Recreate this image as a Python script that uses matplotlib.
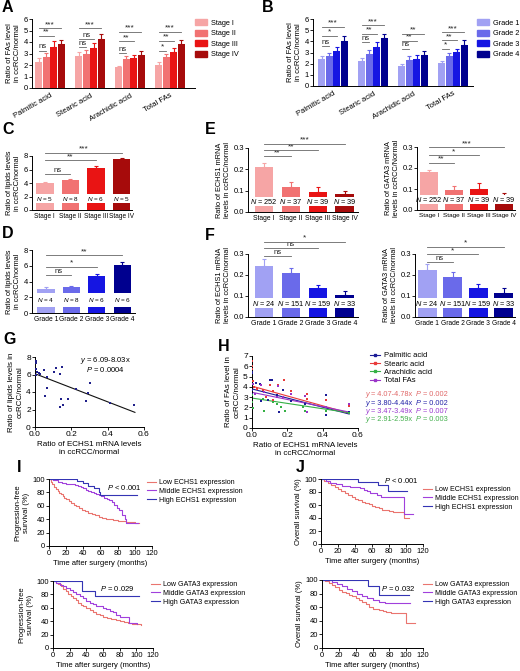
import numpy as np
import matplotlib
matplotlib.use("Agg")
import matplotlib.pyplot as plt
from matplotlib.patches import Patch
from matplotlib.lines import Line2D

plt.rcParams['font.family'] = ['Liberation Sans', 'DejaVu Sans']
plt.rcParams['mathtext.fontset'] = 'custom'
plt.rcParams['mathtext.it'] = 'Liberation Sans:italic'
plt.rcParams['mathtext.rm'] = 'Liberation Sans'
plt.rcParams['font.size'] = 5
plt.rcParams['axes.linewidth'] = 0.7

# ---------------- data ----------------
fa_names = ['Palmitic acid', 'Stearic acid', 'Arachidic acid', 'Total FAs']
stage_names = ['Stage I', 'Stage II', 'Stage III', 'Stage IV']
grade_names = ['Grade 1', 'Grade 2', 'Grade 3', 'Grade 4']

stage_colors = ['#f6a5a5', '#f17272', '#e91414', '#a60b0b']
grade_colors = ['#a1a1f3', '#6a6aea', '#1515e2', '#00008f']

# A: FAs by stage (rows = FA, cols = stage)
fa_stage_mean = [[2.25, 2.7, 3.6, 3.8], [2.8, 2.95, 3.45, 4.3],
                 [1.8, 2.55, 2.6, 2.85], [2.0, 2.7, 3.15, 3.8]]
fa_stage_err = [[0.4, 0.35, 0.45, 0.35], [0.3, 0.35, 0.45, 0.4],
                [0.15, 0.25, 0.25, 0.35], [0.25, 0.25, 0.3, 0.4]]
fa_stage_sig = [[(1, 3.25, 'ns'), (2, 4.55, '**'), (3, 5.2, '***')],
                [(1, 3.55, 'ns'), (2, 4.25, 'ns'), (3, 5.2, '***')],
                [(1, 3.05, 'ns'), (2, 4.05, '**'), (3, 4.9, '***')],
                [(1, 3.25, '*'), (2, 4.1, '**'), (3, 4.9, '***')]]

# B: FAs by grade
fa_grade_mean = [[2.4, 2.65, 3.1, 4.05], [2.25, 2.9, 3.5, 4.3],
                 [1.75, 2.35, 2.45, 2.8], [2.05, 2.7, 3.05, 3.7]]
fa_grade_err = [[0.25, 0.35, 0.35, 0.4], [0.25, 0.35, 0.4, 0.4],
                [0.2, 0.3, 0.35, 0.3], [0.2, 0.25, 0.3, 0.4]]
fa_grade_sig = [[(1, 3.6, 'ns'), (2, 4.5, '*'), (3, 5.3, '***')],
                [(1, 3.95, 'ns'), (2, 4.7, '**'), (3, 5.45, '***')],
                [(1, 3.35, 'ns'), (2, 4.05, '**'), (3, 4.7, '**')],
                [(1, 3.35, '*'), (2, 4.1, '**'), (3, 4.8, '***')]]

# C / D: lipids
lipid_stage_mean = [3.95, 4.4, 6.25, 7.5]
lipid_stage_err = [0.25, 0.15, 0.2, 0.2]
lipid_stage_n = [5, 8, 6, 5]
lipid_stage_sig = [(1, 5.4, 'ns'), (2, 7.4, '**'), (3, 8.5, '***')]

lipid_grade_mean = [3.0, 3.3, 4.7, 6.1]
lipid_grade_err = [0.35, 0.1, 0.25, 0.35]
lipid_grade_n = [4, 8, 6, 6]
lipid_grade_sig = [(1, 4.8, 'ns'), (2, 5.9, '*'), (3, 7.35, '**')]

# E / F: mRNA
echs1_stage_mean = [0.21, 0.116, 0.092, 0.084]
echs1_stage_err = [0.018, 0.026, 0.024, 0.016]
gata3_stage_mean = [0.18, 0.093, 0.1, 0.053]
gata3_stage_err = [0.012, 0.023, 0.027, 0.027]
mrna_stage_n = [252, 37, 39, 39]
echs1_stage_sig = [(1, 0.263, '**'), (2, 0.29, '**'), (3, 0.32, '***')]
gata3_stage_sig = [(1, 0.225, '**'), (2, 0.262, '*'), (3, 0.30, '***')]

echs1_grade_mean = [0.244, 0.208, 0.137, 0.103]
echs1_grade_err = [0.032, 0.024, 0.015, 0.022]
gata3_grade_mean = [0.224, 0.192, 0.14, 0.113]
gata3_grade_err = [0.027, 0.021, 0.016, 0.024]
mrna_grade_n = [24, 151, 159, 33]
echs1_grade_sig = [(1, 0.29, 'ns'), (2, 0.327, 'ns'), (3, 0.359, '*')]
gata3_grade_sig = [(1, 0.263, 'ns'), (2, 0.30, '*'), (3, 0.335, '*')]

# G: lipids vs ECHS1
g_x = [0.003, 0.006, 0.004, 0.01, 0.02, 0.03, 0.005, 0.05, 0.065, 0.068, 0.055,
       0.105, 0.115, 0.14, 0.148, 0.143, 0.152, 0.137, 0.18, 0.225, 0.283,
       0.293, 0.305, 0.415, 0.545]
g_y = [7.5, 7.3, 6.6, 6.3, 6.15, 6.1, 5.95, 6.5, 5.7, 4.5, 3.6,
       6.3, 6.75, 6.1, 6.85, 3.2, 2.5, 2.3, 3.2, 4.4, 3.0,
       3.9, 5.0, 2.7, 2.5]
g_coef = (6.09, -8.03)

# H: FAs vs ECHS1
h_series = ['Palmitic acid', 'Stearic acid', 'Arachidic acid', 'Total FAs']
h_colors = ['#1c1c96', '#e83a3a', '#35b045', '#9a34c8']
h_x = [
    [0.0, 0.0, 0.0, 0.0, 0.02, 0.045, 0.053, 0.09, 0.1, 0.113, 0.14, 0.153,
     0.175, 0.22, 0.3, 0.42, 0.42, 0.55],
    [0.0, 0.0, 0.0, 0.005, 0.01, 0.03, 0.06, 0.077, 0.1, 0.12, 0.12, 0.147,
     0.18, 0.22, 0.31, 0.31, 0.42, 0.55],
    [0.0, 0.0, 0.005, 0.062, 0.066, 0.12, 0.14, 0.166, 0.185, 0.29, 0.3,
     0.42, 0.55],
    [0.005, 0.015, 0.053, 0.07, 0.14, 0.147, 0.175, 0.22, 0.3, 0.31, 0.42, 0.55],
]
h_y = [
    [5.45, 5.3, 3.3, 3.65, 4.4, 4.25, 2.6, 2.7, 4.7, 4.7, 3.2, 1.55,
     3.7, 2.6, 2.35, 1.25, 3.2, 1.55],
    [6.5, 6.0, 5.7, 4.6, 4.0, 3.8, 3.65, 3.0, 4.15, 3.6, 2.7, 4.15,
     4.7, 3.56, 3.3, 2.85, 2.7, 2.1],
    [3.2, 2.5, 1.9, 2.85, 1.7, 2.5, 2.35, 2.05, 1.7, 2.05, 1.7, 1.7, 1.45],
    [4.3, 3.35, 4.15, 3.5, 3.0, 4.05, 3.0, 3.27, 3.1, 1.55, 2.05, 2.3],
]
h_coef = [(3.80, -4.44), (4.07, -4.78), (2.91, -2.59), (3.47, -3.49)]
h_eq = [(' = 4.07-4.78x  ', ' = 0.002', '#e06868'),
        (' = 3.80-4.44x  ', ' = 0.002', '#2222a8'),
        (' = 3.47-3.49x  ', ' = 0.007', '#9a3ad0'),
        (' = 2.91-2.59x  ', ' = 0.003', '#45b04f')]

# I / J: Kaplan-Meier (time in months, survival in %)
km_colors = ['#ea756f', '#a140dc', '#3434b4']
pfs_echs1 = [
    ([0, 2, 4, 6, 8, 10, 12, 14, 16, 18, 20, 23, 26, 29, 32, 35, 38, 42, 46, 50,
      54, 58, 62, 66, 70, 75, 80, 85, 90, 95, 100, 105],
     [100, 96, 92, 88, 85, 82, 79, 77, 75, 72, 70, 67, 64, 61, 59, 56, 54, 52, 50,
      48, 46, 44, 42, 41, 40, 39, 38, 37, 36, 35.5, 35, 35]),
    ([0, 5, 10, 15, 20, 25, 30, 34, 37, 40, 43, 46, 49, 52, 55, 58, 61, 64, 67,
      70, 73, 76, 79, 82, 85, 88, 90, 95, 104],
     [100, 98, 96, 94, 93, 92, 91, 90, 88, 86, 84, 82, 80, 79, 77, 76, 74, 72, 70,
      68, 65, 61, 57, 53, 47, 40, 35, 35, 35]),
    ([0, 33, 40, 46, 52, 58, 60, 103], [100, 97, 94, 90, 86, 81, 76, 76]),
]
pfs_gata3 = [
    ([0, 3, 6, 9, 12, 15, 18, 21, 24, 27, 30, 33, 36, 40, 44, 48, 52, 56, 60, 65,
      70, 75, 80, 85, 90, 95, 100, 105],
     [100, 97, 95, 92, 88, 85, 81, 78, 74, 71, 67, 64, 62, 59, 56, 53, 51, 49, 47,
      45.5, 43, 41.5, 40, 38.5, 37, 36, 35.5, 35]),
    ([0, 4, 8, 12, 16, 20, 24, 28, 32, 36, 40, 44, 48, 52, 56, 60, 64, 68, 72, 76,
      80, 90, 91, 101],
     [100, 97, 94, 92, 90, 87, 83, 80, 78, 74, 70, 67, 65, 63, 62, 60, 58, 55, 53,
      50, 47, 47, 37, 36]),
    ([0, 35, 50, 103], [100, 85, 78, 78]),
]
os_echs1 = [
    ([0, 4, 8, 12, 16, 20, 24, 28, 32, 36, 40, 44, 48, 52, 56, 60, 64, 68, 72, 76,
      80, 85, 90, 98, 103],
     [100, 97, 94, 91, 88, 85, 82, 79, 75, 72, 70, 67, 65, 63, 61, 59, 57, 55, 53,
      52, 51, 50, 49, 40, 40]),
    ([0, 6, 11, 18, 25, 34, 40, 46, 50, 54, 58, 62, 66, 70, 98, 108],
     [100, 97, 94, 92, 90, 88, 87, 86, 83, 81, 79, 78, 75, 73, 46, 46]),
    ([0, 44, 67, 79, 101], [100, 96, 91, 81, 81]),
]
os_gata3 = [
    ([0, 4, 8, 12, 16, 20, 24, 28, 32, 36, 40, 44, 48, 52, 56, 60, 64, 68, 72, 76,
      82, 88, 94, 100, 110],
     [100, 98, 95, 92, 89, 86, 83, 81, 78, 76, 73, 70, 67, 64, 61, 58, 57, 56, 54,
      53, 52, 51, 51, 37, 37]),
    ([0, 12, 18, 24, 30, 36, 42, 48, 54, 60, 68, 75, 105],
     [100, 97, 94, 91, 87, 84, 80, 76, 73, 70, 67, 66, 66]),
    ([0, 55, 68, 103], [100, 91, 78, 78]),
]

# ---------------- figure ----------------
W, H = 520, 671
fig = plt.figure(figsize=(W / 100, H / 100), dpi=100)


def fx(px):
    return px / W


def fy(py):
    return 1 - py / H


def px_axes(x0, y0, x1, y1):
    ax = fig.add_axes([fx(x0), fy(y1), (x1 - x0) / W, (y1 - y0) / H])
    ax.spines['top'].set_visible(False)
    ax.spines['right'].set_visible(False)
    ax.tick_params(direction='out', length=2, width=0.6, pad=1, labelsize=5.5)
    return ax


def letter(x, y, s):
    fig.text(fx(x), fy(y), s, fontsize=11.5, fontweight='bold', va='center', ha='left')


def bars(ax, xs, means, errs, colors, width):
    ax.bar(xs, means, width=width, color=colors, zorder=2)
    for x, m, e, c in zip(xs, means, errs, colors):
        ax.errorbar([x], [m], yerr=[[0], [e]], fmt='none', ecolor=c,
                    elinewidth=0.8, capsize=1.2, capthick=0.8, zorder=2)


def bracket(ax, x0, x1, y, txt, dy):
    ax.plot([x0, x1], [y, y], color='#666666', lw=0.6, clip_on=False, zorder=5)
    ax.text((x0 + x1) / 2, y + dy, txt, ha='center', va='bottom',
            fontsize=5.5 if txt == 'ns' else 6, color='#222222', clip_on=False)


def n_band(ax, xs, ns, lo, hi, width, fs):
    ax.bar(xs, [hi - lo] * len(xs), bottom=lo, width=width, color='white', zorder=3)
    for x, n in zip(xs, ns):
        ax.text(x, (lo + hi) / 2, r'$N$ = %d' % n, ha='center', va='center',
                fontsize=fs, zorder=4)


# ---- A / B grouped bars ----
def grouped(ax, means, errs, sigs, colors, xlim):
    bw, step = 0.18, 0.19
    for g in range(4):
        xs = [g + (k - 1.5) * step for k in range(4)]
        bars(ax, xs, means[g], errs[g], colors, bw)
        for j, y, t in sigs[g]:
            bracket(ax, xs[0], xs[j], y, t, 0.0 if t != 'ns' else 0.02)
    ax.set_xlim(*xlim)
    ax.set_ylim(0, 6)
    ax.set_yticks(range(7))
    ax.set_xticks(range(4))
    ax.set_xticklabels(fa_names, rotation=30, ha='right', rotation_mode='anchor',
                       fontsize=5.5)
    ax.tick_params(axis='x', length=0, pad=3)
    ax.set_ylabel('Ratio of FAs level\nin ccRCC/normal', fontsize=5.5, labelpad=2)


axA = px_axes(32, 19, 195, 88)
grouped(axA, fa_stage_mean, fa_stage_err, fa_stage_sig, stage_colors, (-0.45, 3.625))
fig.legend([Patch(color=c) for c in stage_colors], stage_names, loc='upper left',
           bbox_to_anchor=(fx(195), fy(19)), frameon=False, fontsize=5.3,
           handlelength=1.6, handleheight=0.9, labelspacing=0.4, borderpad=0,
           borderaxespad=0, handletextpad=0.6)
letter(2, 8, 'A')

axB = px_axes(313, 19, 473, 86)
grouped(axB, fa_grade_mean, fa_grade_err, fa_grade_sig, grade_colors, (-0.5, 3.5))
fig.legend([Patch(color=c) for c in grade_colors], grade_names, loc='upper left',
           bbox_to_anchor=(fx(477), fy(19)), frameon=False, fontsize=5.3,
           handlelength=1.6, handleheight=0.9, labelspacing=0.4, borderpad=0,
           borderaxespad=0, handletextpad=0.6)
letter(262, 8, 'B')


# ---- single bar panels ----
def single(ax, means, errs, sigs, colors, names, ns, ylim, yticks, band, xlim,
           ylabel, fmt, nfs, xfs, bw=0.68, sdy=0.0):
    xs = list(range(4))
    bars(ax, xs, means, errs, colors, bw)
    n_band(ax, xs, ns, band[0], band[1], bw, nfs)
    for j, y, t in sigs:
        bracket(ax, 0, j, y, t, sdy)
    ax.set_xlim(*xlim)
    ax.set_ylim(*ylim)
    ax.set_yticks(yticks)
    ax.set_yticklabels([fmt % v for v in yticks])
    ax.set_xticks(xs)
    ax.set_xticklabels(names, fontsize=xfs)
    ax.tick_params(axis='x', length=0, pad=2)
    ax.set_ylabel(ylabel, fontsize=5.3, labelpad=2)


axC = px_axes(32, 156, 132, 210)
single(axC, lipid_stage_mean, lipid_stage_err, lipid_stage_sig, stage_colors,
       stage_names, lipid_stage_n, (0, 8), [0, 2, 4, 6, 8], (1.0, 2.4),
       (-0.5, 3.4), 'Ratio of lipids levels\nin ccRCC/normal', '%d', 4.6, 4.7)
letter(2, 129, 'C')

axD = px_axes(32, 250, 135, 313)
single(axD, lipid_grade_mean, lipid_grade_err, lipid_grade_sig, grade_colors,
       grade_names, lipid_grade_n, (0, 8), [0, 2, 4, 6, 8], (0.8, 2.5),
       (-0.55, 3.5), 'Ratio of lipids levels\nin ccRCC/normal', '%d', 4.6, 4.9)
letter(2, 234, 'D')

yt = [0.0, 0.1, 0.2, 0.3]
axE1 = px_axes(248, 148, 358, 212)
single(axE1, echs1_stage_mean, echs1_stage_err, echs1_stage_sig, stage_colors,
       stage_names, mrna_stage_n, (0, 0.3), yt, (0.03, 0.072), (-0.6, 3.5),
       'Ratio of ECHS1 mRNA\nlevels in ccRCC/normal', '%.1f', 5.3, 4.9)
axE2 = px_axes(417, 147, 515, 210)
single(axE2, gata3_stage_mean, gata3_stage_err, gata3_stage_sig, stage_colors,
       stage_names, mrna_stage_n, (0, 0.3), yt, (0.03, 0.072), (-0.48, 3.44),
       'Ratio of GATA3 mRNA\nlevels in ccRCC/Normal', '%.1f', 5.3, 4.6, bw=0.75)
letter(205, 130, 'E')

axF1 = px_axes(248, 254, 358, 317)
single(axF1, echs1_grade_mean, echs1_grade_err, echs1_grade_sig, grade_colors,
       grade_names, mrna_grade_n, (0, 0.3), yt, (0.043, 0.09), (-0.6, 3.5),
       'Ratio of ECHS1 mRNA\nlevels in ccRCC/normal', '%.1f', 5.3, 5.0)
axF2 = px_axes(415, 254, 515, 317)
single(axF2, gata3_grade_mean, gata3_grade_err, gata3_grade_sig, grade_colors,
       grade_names, mrna_grade_n, (0, 0.3), yt, (0.043, 0.09), (-0.48, 3.44),
       'Ratio of GATA3 mRNA\nlevels in ccRCC/normal', '%.1f', 5.3, 4.8, bw=0.75)
letter(205, 235, 'F')

# ---- G ----
axG = px_axes(35, 357, 144, 427)
axG.scatter(g_x, g_y, s=3, marker='s', color='#1f1f8a', lw=0, zorder=3)
lx = np.array([0.0, 0.55])
axG.plot(lx, g_coef[0] + g_coef[1] * lx, color='#111111', lw=0.8)
axG.set_xlim(0, 0.6)
axG.set_ylim(0, 8)
axG.set_xticks([0.0, 0.2, 0.4, 0.6])
axG.set_xticklabels(['0.0', '0.2', '0.4', '0.6'])
axG.set_yticks([0, 2, 4, 6, 8])
axG.tick_params(labelsize=6)
axG.set_xlabel('Ratio of ECHS1 mRNA levels\nin ccRCC/normal', fontsize=5.8, labelpad=2)
axG.set_ylabel('Ratio of lipids levels in\nccRCC/normal', fontsize=5.8, labelpad=2)
axG.text(0.39, 7.6, r'$y$ = 6.09-8.03x', ha='center', va='center', fontsize=5.5)
axG.text(0.39, 6.6, r'$P$ = 0.0004', ha='center', va='center', fontsize=5.5)
letter(3, 340, 'G')

# ---- H ----
axH = px_axes(252, 356, 358, 428)
for xs_, ys_, c, (a, b) in zip(h_x, h_y, h_colors, h_coef):
    axH.scatter(xs_, ys_, s=2.5, marker='s', color=c, lw=0, zorder=3)
    axH.plot(lx, a + b * lx, color=c, lw=0.8)
axH.set_xlim(0, 0.6)
axH.set_ylim(0, 7)
axH.set_xticks([0.0, 0.2, 0.4, 0.6])
axH.set_xticklabels(['0.0', '0.2', '0.4', '0.6'])
axH.set_yticks(range(8))
axH.tick_params(labelsize=6)
axH.set_xlabel('Ratio of ECHS1 mRNA levels\nin ccRCC/normal', fontsize=5.8, labelpad=2)
axH.set_ylabel('Ratio of FAs level in\nccRCC/normal', fontsize=5.8, labelpad=2)
fig.legend([Line2D([], [], color=c, marker='s', ms=1.5, lw=0.8) for c in h_colors],
           h_series, loc='upper left', bbox_to_anchor=(fx(370), fy(352)),
           frameon=False, fontsize=5.5, handlelength=1.3, labelspacing=0.13,
           borderpad=0, borderaxespad=0, handletextpad=0.5)
# equations: italic y / P, upright rest, chained one after another
for k, (eq, p, c) in enumerate(h_eq):
    t = fig.text(fx(365), fy(395 + 8.3 * k), 'y', color=c, fontsize=5.3,
                 fontstyle='italic', va='center', ha='left')
    for part, style in [(eq, 'normal'), ('P', 'italic'), (p, 'normal')]:
        t = axH.annotate(part, xy=(1, 0), xycoords=t, va='bottom', ha='left',
                         color=c, fontsize=5.3, fontstyle=style,
                         annotation_clip=False)
letter(218, 347, 'H')


# ---- I / J ----
def km(ax, curves, ptxt, ppos, ylabel, labels, leg_xy):
    for (t, s), c in zip(curves, km_colors):
        ax.step(t, s, where='post', color=c, lw=0.8)
    ax.set_xlim(0, 120)
    ax.set_ylim(0, 100)
    ax.set_xticks(range(0, 121, 20))
    ax.set_yticks(range(0, 101, 20))
    ax.tick_params(labelsize=5.5)
    ax.set_xlabel('Time after surgery (months)', fontsize=5.5, labelpad=2)
    ax.set_ylabel(ylabel, fontsize=5.5, labelpad=2)
    ax.text(ppos[0], ppos[1], ptxt, ha='center', va='center', fontsize=5.5)
    fig.legend([Line2D([], [], color=c, lw=0.8) for c in km_colors], labels,
               loc='upper left', bbox_to_anchor=(fx(leg_xy[0]), fy(leg_xy[1])),
               frameon=False, fontsize=5.1, handlelength=1.2, labelspacing=0.25,
               borderpad=0, borderaxespad=0, handletextpad=0.5)


echs1_labels = ['Low ECHS1 expression', 'Middle ECHS1 expression', 'High ECHS1 expression']
gata3_labels = ['Low GATA3 expression', 'Middle GATA3 expression', 'High GATA3 expression']

axI1 = px_axes(49, 479, 152, 546)
km(axI1, pfs_echs1, r'$P$ < 0.001', (88, 88), 'Progression-free\nsurvival (%)',
   echs1_labels, (147, 479))
axI2 = px_axes(53, 581, 153, 648)
km(axI2, pfs_gata3, r'$P$ = 0.029', (77, 89), 'Progression-free\nsurvival (%)',
   gata3_labels, (151, 581))
letter(17, 468, 'I')

axJ1 = px_axes(321, 479, 423, 544)
km(axJ1, os_echs1, r'$P$ < 0.001', (94, 97), 'Overall survival (%)',
   echs1_labels, (423, 486))
axJ2 = px_axes(322, 580, 423, 648)
km(axJ2, os_gata3, r'$P$ = 0.032', (91, 88), 'Overall survival (%)',
   gata3_labels, (423, 581))
letter(296, 468, 'J')

fig.savefig('out.png', dpi=100)
